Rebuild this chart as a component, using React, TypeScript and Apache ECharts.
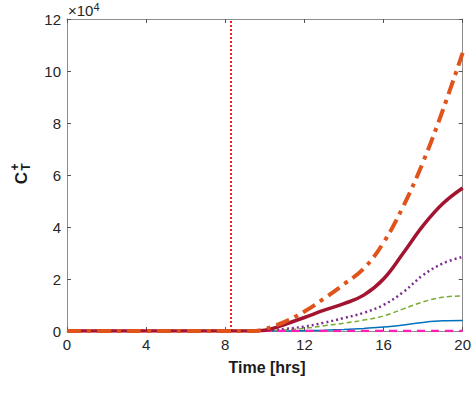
import React, { useEffect, useRef } from "react";
import * as echarts from "echarts";

// Time points (hrs)
const time = [0, 2, 4, 6, 8, 9, 9.5, 10, 10.5, 11, 12, 13, 14, 15, 16, 17, 18, 19, 20];
// C_T^+ values, in units of 10^4
const orangeDashDot = [0, 0, 0, 0, 0, 0, 0, 0.08, 0.2, 0.35, 0.75, 1.25, 1.8, 2.4, 3.4, 4.8, 6.5, 8.5, 10.7];
const maroonSolid = [0, 0, 0, 0, 0, 0, 0, 0.03, 0.12, 0.25, 0.52, 0.8, 1.05, 1.38, 2.0, 3.0, 4.05, 4.9, 5.5];
const purpleDotted = [0, 0, 0, 0, 0, 0, 0, 0.01, 0.04, 0.08, 0.17, 0.32, 0.5, 0.7, 1.0, 1.5, 2.15, 2.6, 2.85];
const greenDashed = [0, 0, 0, 0, 0, 0, 0, 0, 0.02, 0.04, 0.1, 0.2, 0.3, 0.42, 0.58, 0.85, 1.12, 1.3, 1.35];
const blueSolid = [0, 0, 0, 0, 0, 0, 0, 0, 0, 0, 0.01, 0.03, 0.06, 0.1, 0.15, 0.23, 0.33, 0.39, 0.4];
const magentaDashed = [0, 0, 0, 0, 0, 0, 0, 0, 0, 0, 0, 0, 0, 0, 0, 0, 0, 0, 0];
const markerTime = 8.3;

const pairs = (ys: number[]) => time.map((t, i) => [t, ys[i]]);

export default function App() {
  const ref = useRef<HTMLDivElement>(null);
  useEffect(() => {
    const chart = echarts.init(ref.current!, null, { renderer: "svg" });
    const axisColor = "#8c8c8c";
    const font = "Liberation Sans, Arial, sans-serif";
    const labelStyle = { color: "#262626", fontSize: 15, fontFamily: font };
    const tick = { show: true, inside: true, length: 4, lineStyle: { color: "#555" } };
    const axLine = { show: true, onZero: false, lineStyle: { color: axisColor, width: 1 } };
    const line = (name: string, data: number[], color: string, width: number, type: any, z: number) => ({
      name,
      type: "line",
      data: pairs(data),
      showSymbol: false,
      smooth: 0.4,
      z,
      lineStyle: { color, width, type },
    });
    const rotText = (text: string, x: number, y: number, size: number) => ({
      type: "text",
      x,
      y,
      rotation: Math.PI / 2,
      style: {
        text,
        fill: "#1a1a1a",
        font: `bold ${size}px ${font}`,
        align: "center",
        verticalAlign: "middle",
      },
    });
    chart.setOption({
      animation: false,
      backgroundColor: "#ffffff",
      grid: { left: 67, right: 7, top: 19, bottom: 66, show: false },
      xAxis: [
        {
          type: "value",
          min: 0,
          max: 20,
          interval: 4,
          axisLine: axLine,
          axisTick: tick,
          axisLabel: { ...labelStyle, margin: 6 },
          splitLine: { show: false },
        },
        {
          type: "value",
          position: "top",
          min: 0,
          max: 20,
          interval: 4,
          axisLine: axLine,
          axisTick: tick,
          axisLabel: { show: false },
          splitLine: { show: false },
        },
      ],
      yAxis: [
        {
          type: "value",
          min: 0,
          max: 12,
          interval: 2,
          axisLine: axLine,
          axisTick: tick,
          axisLabel: { ...labelStyle, margin: 6 },
          splitLine: { show: false },
        },
        {
          type: "value",
          position: "right",
          min: 0,
          max: 12,
          interval: 2,
          axisLine: axLine,
          axisTick: tick,
          axisLabel: { show: false },
          splitLine: { show: false },
        },
      ],
      series: [
        line("magenta", magentaDashed, "#ff1fb4", 2.5, [8, 6], 5),
        line("blue", blueSolid, "#0072bd", 1.5, "solid", 4),
        line("green", greenDashed, "#77ac30", 1.5, [5, 3], 4),
        line("purple", purpleDotted, "#7e2f8e", 2.5, [2, 3], 4),
        line("maroon", maroonSolid, "#a2142f", 3.5, "solid", 6),
        {
          ...line("orange", orangeDashDot, "#e0531a", 4, [14, 6, 4, 6], 7),
          markLine: {
            silent: true,
            symbol: "none",
            label: { show: false },
            lineStyle: { color: "#ee1c25", width: 2, type: [2, 2] },
            data: [{ xAxis: markerTime }],
          },
        },
      ],
      graphic: [
        {
          type: "text",
          left: 68,
          top: 1,
          style: {
            text: "×10{s|4}",
            fill: "#262626",
            font: "15px " + font,
            rich: { s: { fontSize: 11, verticalAlign: "top", padding: [0, 0, 8, 0], fill: "#262626" } },
          },
        },
        {
          type: "text",
          x: 267,
          y: 367,
          style: {
            text: "Time [hrs]",
            fill: "#1a1a1a",
            font: "bold 16px " + font,
            align: "center",
            verticalAlign: "middle",
          },
        },
        rotText("C", 21, 178, 17),
        rotText("+", 15, 167, 12),
        rotText("T", 26, 167, 12),
      ],
    });
    return () => chart.dispose();
  }, []);
  return <div ref={ref} style={{ width: 474, height: 397, position: "absolute", left: 0, top: 0 }} />;
}
